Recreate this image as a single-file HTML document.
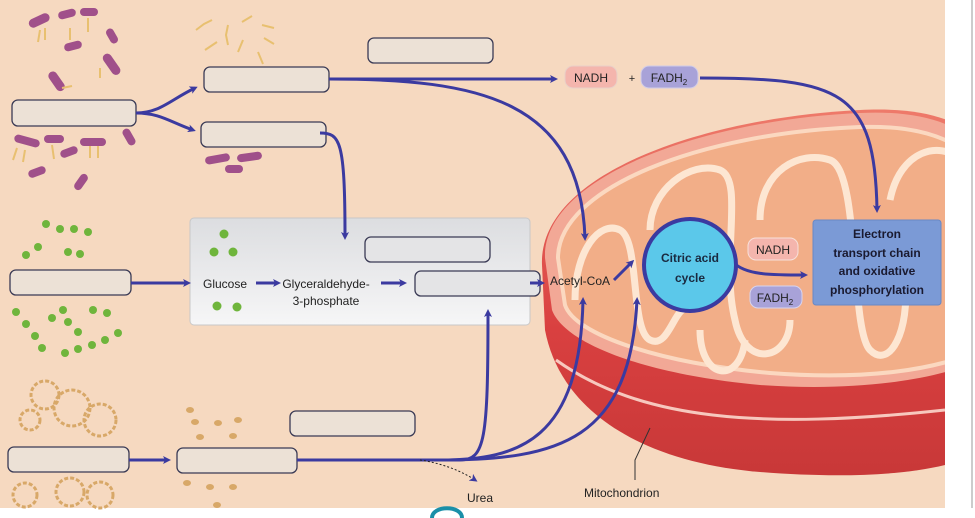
<!DOCTYPE html>
<html><head><style>
html,body{margin:0;padding:0;background:#fff;}
svg{display:block;font-family:"Liberation Sans",sans-serif;}
</style></head><body>
<svg width="975" height="518" viewBox="0 0 975 518" xmlns="http://www.w3.org/2000/svg">
<defs>
<marker id="ah" markerWidth="8" markerHeight="8" refX="5" refY="4" orient="auto" markerUnits="userSpaceOnUse"><path d="M0,0 L8,4 L0,8 L2,4z" fill="#3b3aa0"/></marker>
<linearGradient id="pan" x1="0" y1="0" x2="0" y2="1"><stop offset="0" stop-color="#dcdde0"/><stop offset="1" stop-color="#f6f6f7"/></linearGradient>
<linearGradient id="red" x1="0" y1="0" x2="0" y2="1"><stop offset="0" stop-color="#ee7a6a"/><stop offset="0.6" stop-color="#d94040"/><stop offset="1" stop-color="#c83838"/></linearGradient>
<clipPath id="cl"><rect x="0" y="0" width="945" height="508"/></clipPath>
</defs>
<rect x="0" y="0" width="945" height="508" fill="#f6d9c0"/>
<line x1="972" y1="0" x2="972" y2="508" stroke="#999" stroke-width="1"/>
<g clip-path="url(#cl)">
<path d="M542,265 C538,175 700,118 860,110 C960,105 1000,140 1000,200 L1000,440 C960,475 860,480 760,472 C640,462 560,410 545,330 Z" fill="url(#red)"/>
<path d="M545,258 C542,178 700,120 860,113 C960,108 1000,150 1000,200 L1000,350 C950,380 860,392 760,385 C650,375 565,345 552,310 Z" fill="#f2a896"/>
<path d="M558,258 C558,188 700,133 860,127 C950,124 990,160 990,200 L990,345 C940,372 860,380 770,373 C660,363 575,335 565,305 Z" fill="#f2ae88" stroke="#fbd8c0" stroke-width="4"/>
<g fill="none" stroke="#fde6d2" stroke-width="7">
<path d="M575,300 C575,250 600,220 620,230 C640,240 630,330 650,340 C670,350 675,300 690,310"/>
<path d="M650,230 C650,190 690,160 720,170 C745,180 720,260 735,320 C745,370 790,360 790,320"/>
<path d="M760,220 C760,170 800,150 830,160 C860,170 850,330 870,350 C890,370 910,330 905,280"/>
<path d="M890,200 C900,150 940,140 960,160"/>
<path d="M700,330 C700,380 740,385 745,340"/>
</g>
<path d="M556,360 C640,420 760,430 945,410" stroke="#f7c8be" stroke-width="3" fill="none"/>
</g>
<rect x="190" y="218" width="340" height="107" rx="4" fill="url(#pan)" stroke="#c8c8c8"/>
<g fill="#a0508a">
<rect x="28" y="16" width="22" height="9" rx="4.5" transform="rotate(-25 39 20)"/><rect x="58" y="10" width="18" height="8" rx="4" transform="rotate(-15 67 14)"/><rect x="80" y="8" width="18" height="8" rx="4"/>
<rect x="64" y="42" width="18" height="8" rx="4" transform="rotate(-15 73 46)"/><rect x="104" y="32" width="16" height="8" rx="4" transform="rotate(60 112 36)"/>
<rect x="46" y="77" width="22" height="9" rx="4.5" transform="rotate(55 57 81)"/><rect x="100" y="60" width="24" height="9" rx="4.5" transform="rotate(55 112 64)"/>
<rect x="14" y="137" width="26" height="8" rx="4" transform="rotate(15 27 141)"/><rect x="44" y="135" width="20" height="8" rx="4"/><rect x="80" y="138" width="26" height="8" rx="4"/><rect x="60" y="148" width="18" height="8" rx="4" transform="rotate(-20 69 152)"/>
<rect x="120" y="133" width="18" height="8" rx="4" transform="rotate(60 129 137)"/><rect x="28" y="168" width="18" height="8" rx="4" transform="rotate(-20 37 172)"/><rect x="72" y="178" width="18" height="8" rx="4" transform="rotate(-55 81 182)"/>
<rect x="205" y="155" width="25" height="8" rx="4" transform="rotate(-10 217 159)"/><rect x="237" y="153" width="25" height="8" rx="4" transform="rotate(-8 249 157)"/><rect x="225" y="165" width="18" height="8" rx="4"/>
</g>
<g stroke="#e8c070" stroke-width="2" fill="none">
<path d="M196,30 l8,-6 l8,-4"/><path d="M228,25 l-2,10 l2,10"/><path d="M242,22 l10,-6"/><path d="M262,25 l12,3"/><path d="M205,50 l12,-8"/><path d="M238,52 l5,-12"/><path d="M264,38 l10,6"/><path d="M258,52 l5,12"/>
<path d="M40,30 l-2,12"/><path d="M45,28 l0,12"/><path d="M70,28 l0,12"/><path d="M88,18 l0,14"/><path d="M100,68 l0,10"/><path d="M62,88 l10,-2"/><path d="M17,148 l-4,12"/><path d="M25,150 l-2,12"/><path d="M52,145 l2,14"/><path d="M90,146 l0,12"/><path d="M98,146 l0,12"/>
</g>
<g fill="#6fb53c">
<circle cx="46" cy="224" r="4"/><circle cx="60" cy="229" r="4"/><circle cx="74" cy="229" r="4"/><circle cx="88" cy="232" r="4"/><circle cx="26" cy="255" r="4"/><circle cx="38" cy="247" r="4"/><circle cx="68" cy="252" r="4"/><circle cx="80" cy="254" r="4"/>
<circle cx="16" cy="312" r="4"/><circle cx="26" cy="324" r="4"/><circle cx="35" cy="336" r="4"/><circle cx="42" cy="348" r="4"/><circle cx="52" cy="318" r="4"/><circle cx="63" cy="310" r="4"/><circle cx="68" cy="322" r="4"/><circle cx="78" cy="332" r="4"/><circle cx="93" cy="310" r="4"/><circle cx="107" cy="313" r="4"/><circle cx="65" cy="353" r="4"/><circle cx="78" cy="349" r="4"/><circle cx="92" cy="345" r="4"/><circle cx="105" cy="340" r="4"/><circle cx="118" cy="333" r="4"/>
<circle cx="224" cy="234" r="4.5"/><circle cx="214" cy="252" r="4.5"/><circle cx="233" cy="252" r="4.5"/><circle cx="217" cy="306" r="4.5"/><circle cx="237" cy="307" r="4.5"/>
</g>
<g fill="none" stroke="#d8a868" stroke-width="3" stroke-dasharray="4 2">
<circle cx="45" cy="395" r="14"/><circle cx="72" cy="408" r="18"/><circle cx="100" cy="420" r="16"/><circle cx="30" cy="420" r="10"/><circle cx="25" cy="495" r="12"/><circle cx="70" cy="492" r="14"/><circle cx="100" cy="495" r="13"/>
</g>
<g fill="#d8a868"><ellipse cx="190" cy="410" rx="4" ry="3"/><ellipse cx="195" cy="422" rx="4" ry="3"/><ellipse cx="218" cy="423" rx="4" ry="3"/><ellipse cx="238" cy="420" rx="4" ry="3"/><ellipse cx="200" cy="437" rx="4" ry="3"/><ellipse cx="233" cy="436" rx="4" ry="3"/><ellipse cx="187" cy="483" rx="4" ry="3"/><ellipse cx="210" cy="487" rx="4" ry="3"/><ellipse cx="233" cy="487" rx="4" ry="3"/><ellipse cx="217" cy="505" rx="4" ry="3"/></g>
<g fill="#ece1d6" stroke="#3a3a55" stroke-width="1.3">
<rect x="12" y="100" width="124" height="26" rx="6"/>
<rect x="204" y="67" width="125" height="25" rx="6"/>
<rect x="201" y="122" width="125" height="25" rx="6"/>
<rect x="368" y="38" width="125" height="25" rx="6"/>
<rect x="10" y="270" width="121" height="25" rx="6"/>
<rect x="8" y="447" width="121" height="25" rx="6"/>
<rect x="177" y="448" width="120" height="25" rx="6"/>
<rect x="290" y="411" width="125" height="25" rx="6"/>
</g>
<g fill="#e4e4e6" stroke="#3a3a55" stroke-width="1.3">
<rect x="365" y="237" width="125" height="25" rx="6"/>
<rect x="415" y="271" width="125" height="25" rx="6"/>
</g>
<g fill="none" stroke="#3b3aa0" stroke-width="3">
<path d="M136,113 C160,113 170,100 195,88" marker-end="url(#ah)"/>
<path d="M136,113 C160,113 170,122 193,130" marker-end="url(#ah)"/>
<path d="M329,79 L555,79" marker-end="url(#ah)"/>
<path d="M329,79 C480,79 580,100 585,238" marker-end="url(#ah)"/>
<path d="M700,78 C840,78 875,90 877,210" marker-end="url(#ah)"/>
<path d="M320,133 C340,133 345,140 345,237" marker-end="url(#ah)"/>
<path d="M131,283 L188,283" marker-end="url(#ah)"/>
<path d="M256,283 L278,283" marker-end="url(#ah)"/>
<path d="M381,283 L404,283" marker-end="url(#ah)"/>
<path d="M530,283 L542,283" marker-end="url(#ah)"/>
<path d="M129,460 L168,460" marker-end="url(#ah)"/>
<path d="M297,460 L460,460 C485,460 488,440 488,312" marker-end="url(#ah)"/>
<path d="M440,460 C520,460 580,440 583,300" marker-end="url(#ah)"/>
<path d="M440,460 C560,460 630,440 637,300" marker-end="url(#ah)"/>
<path d="M614,280 L632,262" marker-end="url(#ah)"/>
<path d="M733,262 C745,275 770,275 805,275" marker-end="url(#ah)"/>
</g>
<path d="M420,460 C440,463 460,470 475,480" stroke="#222" stroke-width="1" stroke-dasharray="2 2" fill="none" marker-end="url(#ah)"/>
<polyline points="650,428 635,460 635,480" fill="none" stroke="#333" stroke-width="1"/>
<circle cx="690" cy="265" r="46" fill="#5bc8ea" stroke="#3b3aa0" stroke-width="4"/>
<text x="690" y="262" text-anchor="middle" font-size="12" font-weight="bold" fill="#1a2a40">Citric acid</text>
<text x="690" y="282" text-anchor="middle" font-size="12" font-weight="bold" fill="#1a2a40">cycle</text>
<rect x="565" y="66" width="52" height="22" rx="8" fill="#f4b5ad" stroke="#e9d0c8"/>
<text x="591" y="82" text-anchor="middle" font-size="12" fill="#222">NADH</text>
<text x="632" y="82" text-anchor="middle" font-size="11" fill="#222">+</text>
<rect x="641" y="66" width="57" height="22" rx="8" fill="#a8a2d8" stroke="#d0cce8"/>
<text x="669" y="82" text-anchor="middle" font-size="12" fill="#222">FADH<tspan font-size="8" dy="3">2</tspan></text>
<rect x="748" y="238" width="50" height="22" rx="8" fill="#f4b5ad" stroke="#f7e0da"/>
<text x="773" y="254" text-anchor="middle" font-size="12" fill="#222">NADH</text>
<rect x="750" y="286" width="52" height="22" rx="8" fill="#a8a2d8" stroke="#d8d4ee"/>
<text x="775" y="302" text-anchor="middle" font-size="12" fill="#222">FADH<tspan font-size="8" dy="3">2</tspan></text>
<rect x="813" y="220" width="128" height="85" rx="3" fill="#7b9ad6" stroke="#6a88c4"/>
<g font-size="12" font-weight="bold" fill="#1a1a30" text-anchor="middle">
<text x="877" y="238">Electron</text><text x="877" y="257">transport chain</text><text x="877" y="275">and oxidative</text><text x="877" y="294">phosphorylation</text>
</g>
<g font-size="12" fill="#222">
<text x="203" y="288">Glucose</text>
<text x="326" y="288" text-anchor="middle">Glyceraldehyde-</text>
<text x="326" y="305" text-anchor="middle">3-phosphate</text>
<text x="550" y="285">Acetyl-CoA</text>
<text x="467" y="502">Urea</text>
<text x="584" y="497">Mitochondrion</text>
</g>
<path d="M432,518 C432,505 462,505 462,518" fill="none" stroke="#1a8fa8" stroke-width="4"/>
</svg>
</body></html>
